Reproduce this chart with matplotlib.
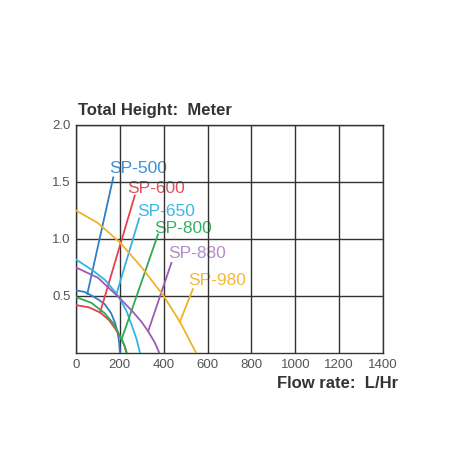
import matplotlib
matplotlib.use("Agg")
import matplotlib.pyplot as plt

plt.rcParams['font.family'] = ['Liberation Sans', 'DejaVu Sans']

# pump curves: flow (L/Hr) vs head (m)
sp500_q = [0, 40, 70, 105, 130, 160, 178, 190, 197, 200]
sp500_h = [0.55, 0.535, 0.505, 0.465, 0.43, 0.35, 0.265, 0.18, 0.09, 0.0]

sp600_q = [0, 60, 110, 150, 180, 205, 220, 230]
sp600_h = [0.42, 0.40, 0.355, 0.29, 0.21, 0.13, 0.07, 0.0]

sp650_q = [0, 72, 133, 185, 200, 230, 253, 275, 292]
sp650_h = [0.82, 0.73, 0.64, 0.52, 0.475, 0.37, 0.25, 0.13, 0.0]

sp800_q = [0, 70, 130, 170, 195, 208, 222, 232]
sp800_h = [0.49, 0.44, 0.35, 0.26, 0.17, 0.12, 0.06, 0.0]

sp880_q = [0, 100, 133, 200, 260, 300, 329, 360, 380]
sp880_h = [0.75, 0.66, 0.60, 0.48, 0.36, 0.27, 0.19, 0.09, 0.0]

sp980_q = [0, 100, 200, 300, 400, 475, 548]
sp980_h = [1.25, 1.14, 0.97, 0.75, 0.50, 0.27, 0.0]

names = ['SP-500', 'SP-600', 'SP-650', 'SP-800', 'SP-880', 'SP-980']
line_colors = ['#2f7fc6', '#e8404c', '#33b4e4', '#2daa55', '#9b5cb4', '#f0b22a']
text_colors = ['#3d90d6', '#e0505c', '#3ab8e8', '#36b060', '#b58ccb', '#f2b93a']

# label text position and leader line (from label to curve)
label_xy = [(283, 1.62), (364, 1.44), (409, 1.245), (490, 1.09), (554, 0.875), (643, 0.64)]
leader_top = [(170, 1.54), (268, 1.38), (288, 1.18), (374, 1.04), (435, 0.79), (533, 0.56)]
leader_end = [(52, 0.52), (110, 0.355), (185, 0.52), (208, 0.12), (329, 0.19), (473, 0.27)]

xticks = [0, 200, 400, 600, 800, 1000, 1200, 1400]
yticks = [0.5, 1.0, 1.5, 2.0]

fig = plt.figure(figsize=(4.74, 4.53), dpi=100)
ax = fig.add_axes([0.1603, 0.2208, 0.6477, 0.5033])

curves = [(sp500_q, sp500_h), (sp600_q, sp600_h), (sp650_q, sp650_h),
          (sp800_q, sp800_h), (sp880_q, sp880_h), (sp980_q, sp980_h)]

for i, (q, h) in enumerate(curves):
    ax.plot(q, h, color=line_colors[i], lw=1.3, zorder=3, solid_joinstyle='round')
    ax.plot([leader_top[i][0], leader_end[i][0]], [leader_top[i][1], leader_end[i][1]],
            color=line_colors[i], lw=1.3, zorder=3)
    ax.text(label_xy[i][0], label_xy[i][1], names[i], color=text_colors[i],
            fontsize=12.5, ha='center', va='center', zorder=1)

ax.set_xlim(0, 1400)
ax.set_ylim(0, 2.0)
ax.set_xticks(xticks)
ax.set_yticks(yticks)
ax.set_xticklabels([str(v) for v in xticks])
ax.set_yticklabels(['%.1f' % v for v in yticks])
ax.grid(True, color='#333333', lw=1.0, zorder=2)
ax.set_axisbelow(False)
for s in ax.spines.values():
    s.set_color('#333333')
    s.set_linewidth(1.0)
ax.tick_params(length=0, labelsize=9.5, labelcolor='#555555')
ax.tick_params(axis='y', pad=4)
ax.tick_params(axis='x', pad=4)

fig.text(0.1646, 0.757, 'Total Height:  Meter', fontsize=12, fontweight='bold',
         color='#333333', ha='left', va='center')
fig.text(0.84, 0.1545, 'Flow rate:  L/Hr', fontsize=12, fontweight='bold',
         color='#333333', ha='right', va='center')

fig.savefig('out.png', dpi=100)
